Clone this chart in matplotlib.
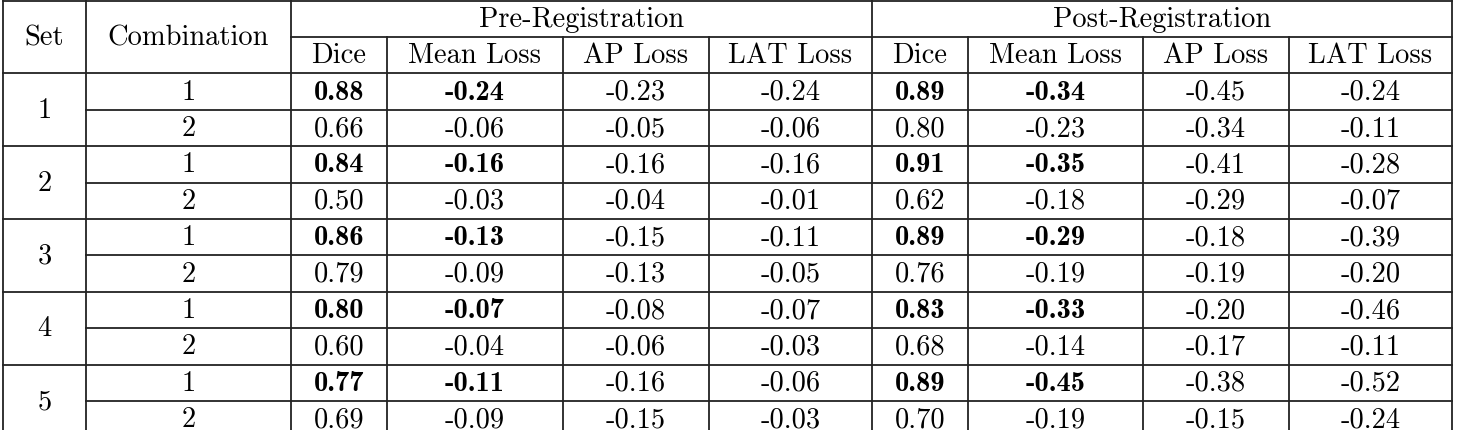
import matplotlib
matplotlib.use("Agg")
import matplotlib.pyplot as plt
plt.rcParams['axes.unicode_minus'] = False

sets = ["1", "2", "3", "4", "5"]
combos = ["1", "2"]
groups = ["Pre-Registration", "Post-Registration"]
metrics = ["Dice", "Mean Loss", "AP Loss", "LAT Loss"]
pre = [
    ["0.88", "-0.24", "-0.23", "-0.24"], ["0.66", "-0.06", "-0.05", "-0.06"],
    ["0.84", "-0.16", "-0.16", "-0.16"], ["0.50", "-0.03", "-0.04", "-0.01"],
    ["0.86", "-0.13", "-0.15", "-0.11"], ["0.79", "-0.09", "-0.13", "-0.05"],
    ["0.80", "-0.07", "-0.08", "-0.07"], ["0.60", "-0.04", "-0.06", "-0.03"],
    ["0.77", "-0.11", "-0.16", "-0.06"], ["0.69", "-0.09", "-0.15", "-0.03"],
]
post = [
    ["0.89", "-0.34", "-0.45", "-0.24"], ["0.80", "-0.23", "-0.34", "-0.11"],
    ["0.91", "-0.35", "-0.41", "-0.28"], ["0.62", "-0.18", "-0.29", "-0.07"],
    ["0.89", "-0.29", "-0.18", "-0.39"], ["0.76", "-0.19", "-0.19", "-0.20"],
    ["0.83", "-0.33", "-0.20", "-0.46"], ["0.68", "-0.14", "-0.17", "-0.11"],
    ["0.89", "-0.45", "-0.38", "-0.52"], ["0.70", "-0.19", "-0.15", "-0.24"],
]

W, H = 1460, 431
fig = plt.figure(figsize=(W / 100, H / 100), dpi=100)
ax = fig.add_axes([0, 0, 1, 1])
ax.set_xlim(0, W); ax.set_ylim(H, 0); ax.axis('off')

xs = [3, 86, 291, 387, 563, 709, 872, 968, 1143, 1289, 1452]
ytop, ymid, yhead = 2, 38, 74.3
rh = 36.4
lw = 1.3
col = '#222222'
fs = 20.5
reg = dict(family='cmr10', fontsize=fs, ha='center', va='center', color='black')
bold = dict(family='cmb10', fontsize=fs, ha='center', va='center', color='black')

nrows = len(pre)
ybot = yhead + nrows * rh
ax.plot([xs[0], xs[-1]], [ytop, ytop], color=col, lw=lw)
ax.plot([xs[2], xs[-1]], [ymid, ymid], color=col, lw=lw)
for i in range(nrows + 1):
    y = yhead + i * rh
    x0 = xs[0] if i % 2 == 0 else xs[1]
    ax.plot([x0, xs[-1]], [y, y], color=col, lw=lw)
for j, x in enumerate(xs):
    y0 = ymid if j in (3, 4, 5, 7, 8, 9) else ytop
    ax.plot([x, x], [y0, ybot], color=col, lw=lw)

ax.text((xs[0] + xs[1]) / 2, (ytop + yhead) / 2, "Set", **reg)
ax.text((xs[1] + xs[2]) / 2, (ytop + yhead) / 2, "Combination", **reg)
for g, gname in enumerate(groups):
    a, b = xs[2 + 4 * g], xs[6 + 4 * g]
    ax.text((a + b) / 2, (ytop + ymid) / 2, gname, **reg)
    for k, m in enumerate(metrics):
        c0, c1 = xs[2 + 4 * g + k], xs[3 + 4 * g + k]
        ax.text((c0 + c1) / 2, (ymid + yhead) / 2, m, **reg)

for s, sname in enumerate(sets):
    ax.text((xs[0] + xs[1]) / 2, yhead + (2 * s + 1) * rh, sname, **reg)
for r in range(nrows):
    yc = yhead + (r + 0.5) * rh
    ax.text((xs[1] + xs[2]) / 2, yc, combos[r % 2], **reg)
    for g, data in enumerate([pre, post]):
        for k in range(4):
            c0, c1 = xs[2 + 4 * g + k], xs[3 + 4 * g + k]
            style = bold if (r % 2 == 0 and k < 2) else reg
            ax.text((c0 + c1) / 2, yc, data[r][k], **style)

fig.savefig("out.png", dpi=100)
